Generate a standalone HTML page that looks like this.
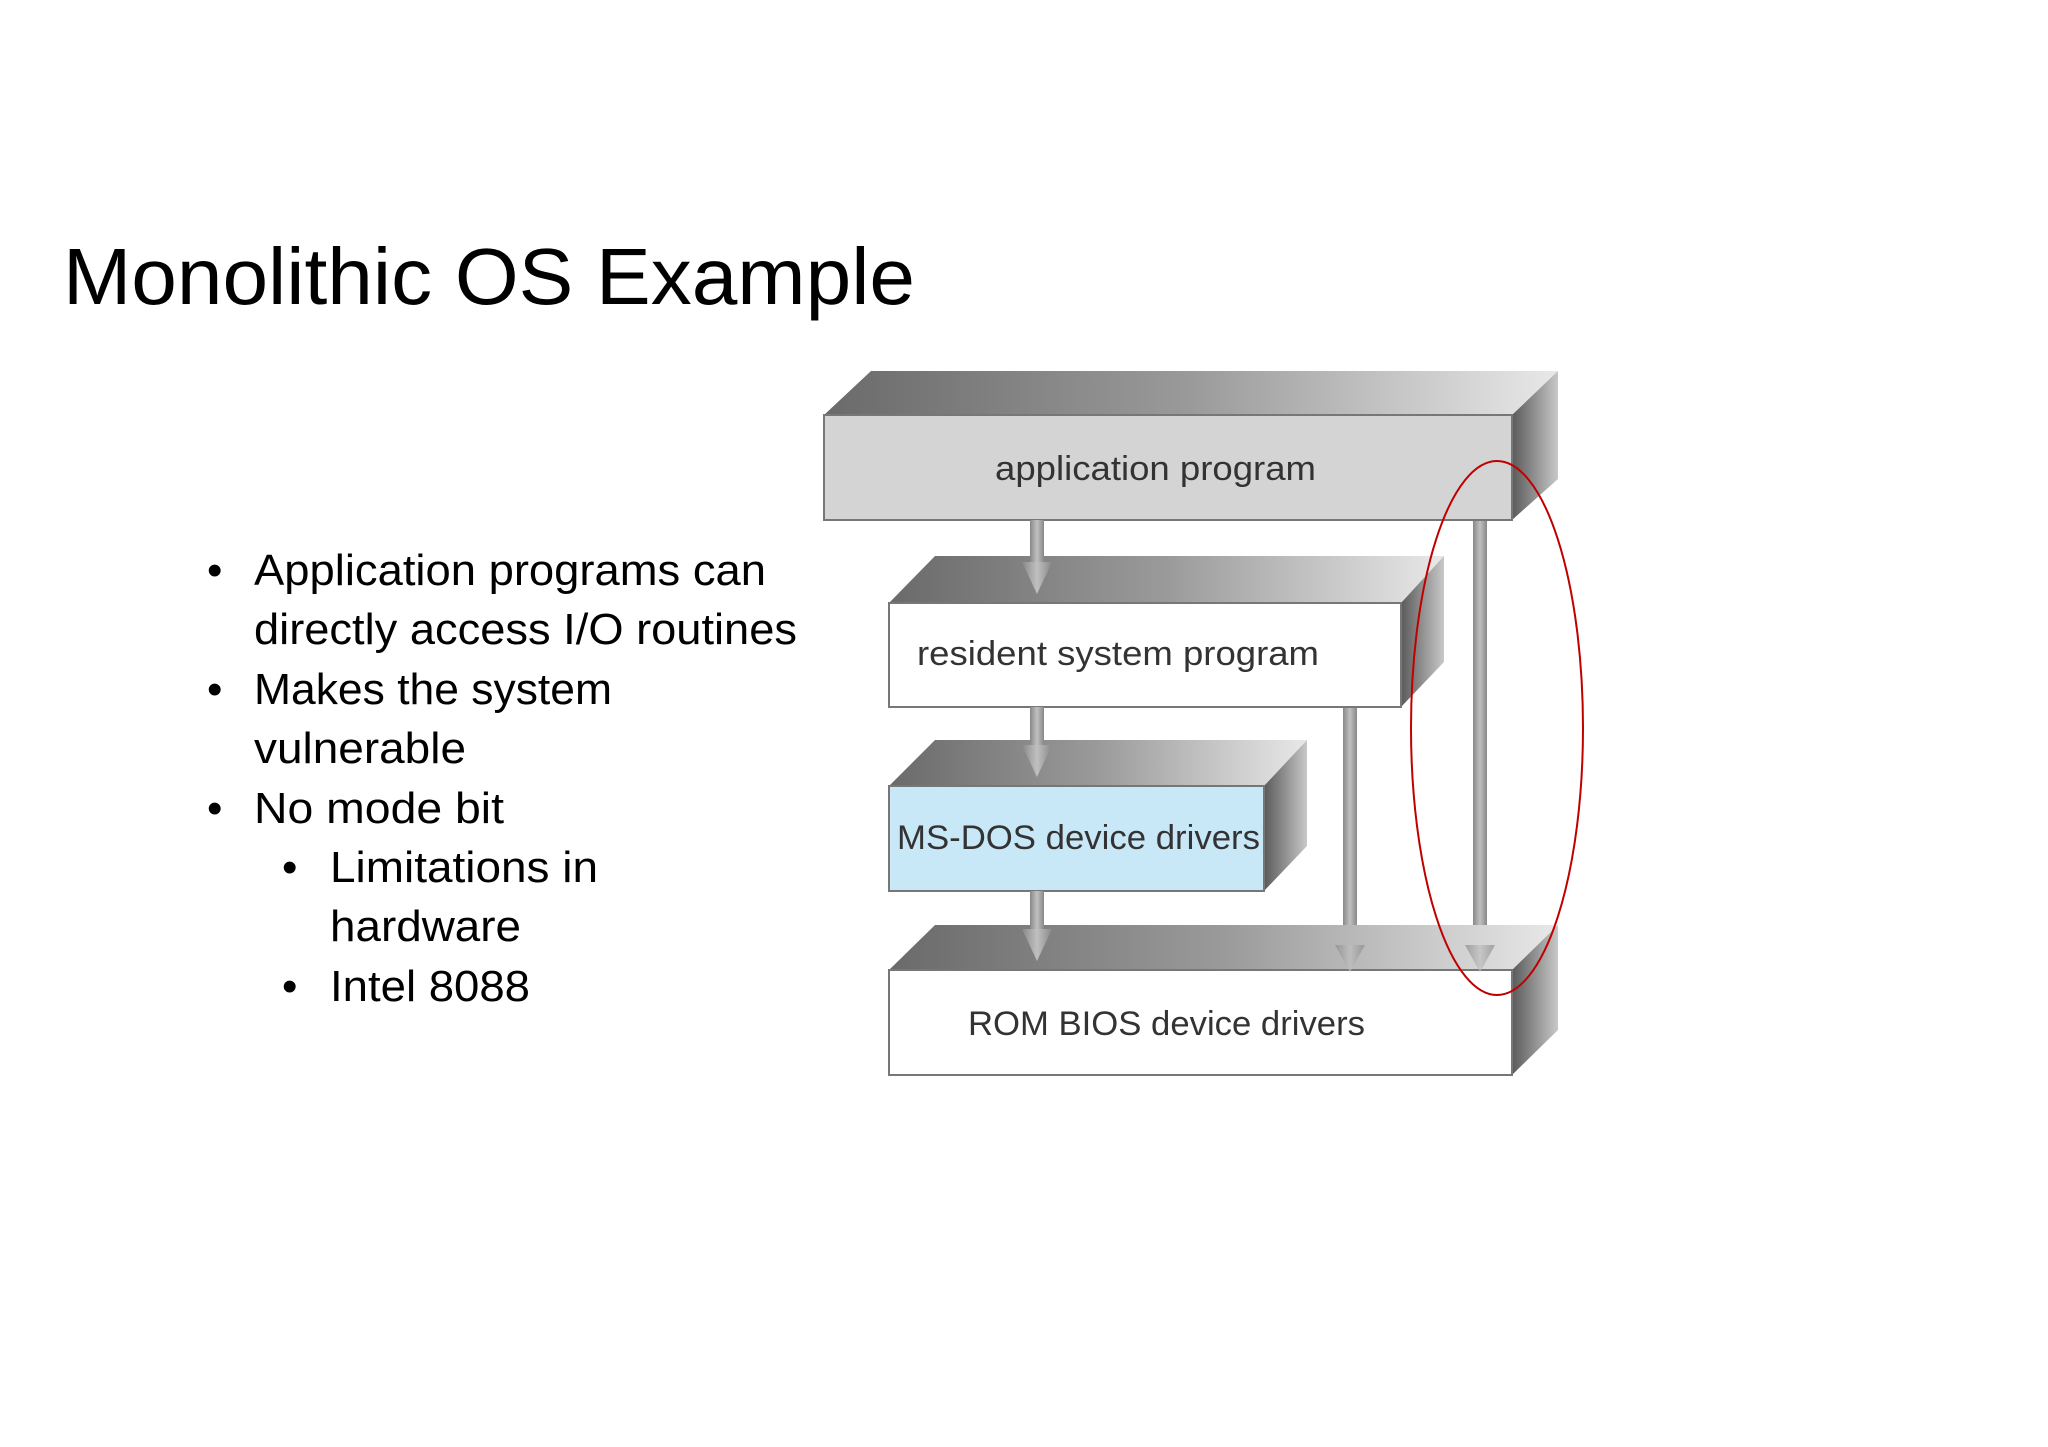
<!DOCTYPE html>
<html><head><meta charset="utf-8"><style>
html,body{margin:0;padding:0;background:#fff}
svg{display:block}
text{font-family:"Liberation Sans",sans-serif}
</style></head><body>
<svg width="2048" height="1447" viewBox="0 0 2048 1447" xmlns="http://www.w3.org/2000/svg">
<defs>
<linearGradient id="top" x1="0" y1="0" x2="1" y2="0">
<stop offset="0" stop-color="#6a6a6a"/><stop offset="0.5" stop-color="#9a9a9a"/><stop offset="1" stop-color="#e8e8e8"/></linearGradient>
<linearGradient id="side" x1="0" y1="0" x2="1" y2="0">
<stop offset="0" stop-color="#5a5a5a"/><stop offset="1" stop-color="#c8c8c8"/></linearGradient>
<linearGradient id="bar" x1="0" y1="0" x2="1" y2="0">
<stop offset="0" stop-color="#888"/><stop offset="0.5" stop-color="#c0c0c0"/><stop offset="1" stop-color="#888"/></linearGradient>
</defs>
<text x="63" y="304" font-size="80" textLength="852" lengthAdjust="spacingAndGlyphs" fill="#000">Monolithic OS Example</text>
<g font-size="44" fill="#000">
<text x="207" y="585">•</text><text x="254" y="585" textLength="512" lengthAdjust="spacingAndGlyphs">Application programs can</text>
<text x="254" y="644" textLength="543" lengthAdjust="spacingAndGlyphs">directly access I/O routines</text>
<text x="207" y="704">•</text><text x="254" y="704" textLength="358" lengthAdjust="spacingAndGlyphs">Makes the system</text>
<text x="254" y="763" textLength="212" lengthAdjust="spacingAndGlyphs">vulnerable</text>
<text x="207" y="823">•</text><text x="254" y="823" textLength="250" lengthAdjust="spacingAndGlyphs">No mode bit</text>
<text x="282" y="882">•</text><text x="330" y="882" textLength="268" lengthAdjust="spacingAndGlyphs">Limitations in</text>
<text x="330" y="941" textLength="191" lengthAdjust="spacingAndGlyphs">hardware</text>
<text x="282" y="1001">•</text><text x="330" y="1001" textLength="200" lengthAdjust="spacingAndGlyphs">Intel 8088</text>
</g>
<!-- vertical bars -->
<rect x="1343" y="707" width="14" height="240" fill="url(#bar)"/>
<rect x="1473" y="520" width="14" height="427" fill="url(#bar)"/>
<!-- ROM -->
<polygon points="889,970 935,925 1558,925 1512,970" fill="url(#top)"/>
<polygon points="1512,970 1558,925 1558,1030 1512,1075" fill="url(#side)"/>
<rect x="889" y="970" width="623" height="105" fill="#fff" stroke="#777" stroke-width="2"/>
<text x="968" y="1035" font-size="34" fill="#333" textLength="397" lengthAdjust="spacingAndGlyphs">ROM BIOS device drivers</text>
<!-- MS-DOS -->
<polygon points="889,786 935,740 1307,740 1264,786" fill="url(#top)"/>
<polygon points="1264,786 1307,740 1307,846 1264,891" fill="url(#side)"/>
<rect x="889" y="786" width="375" height="105" fill="#c8e8f8" stroke="#777" stroke-width="2"/>
<text x="897" y="849" font-size="34" fill="#333" textLength="363" lengthAdjust="spacingAndGlyphs">MS-DOS device drivers</text>
<!-- resident -->
<polygon points="889,603 935,556 1444,556 1401,603" fill="url(#top)"/>
<polygon points="1401,603 1444,556 1444,662 1401,707" fill="url(#side)"/>
<rect x="889" y="603" width="512" height="104" fill="#fff" stroke="#777" stroke-width="2"/>
<text x="917" y="665" font-size="34" fill="#333" textLength="402" lengthAdjust="spacingAndGlyphs">resident system program</text>
<!-- app -->
<polygon points="824,415 871,371 1558,371 1512,415" fill="url(#top)"/>
<polygon points="1512,415 1558,371 1558,479 1512,520" fill="url(#side)"/>
<rect x="824" y="415" width="688" height="105" fill="#d4d4d4" stroke="#777" stroke-width="2"/>
<text x="995" y="480" font-size="34" fill="#333" textLength="321" lengthAdjust="spacingAndGlyphs">application program</text>
<!-- down arrows -->
<g fill="url(#bar)">
<rect x="1030" y="520" width="14" height="42"/><polygon points="1022,562 1052,562 1037,594"/>
<rect x="1030" y="707" width="14" height="38"/><polygon points="1022,745 1052,745 1037,777"/>
<rect x="1030" y="891" width="14" height="38"/><polygon points="1022,929 1052,929 1037,961"/>
<polygon points="1335,945 1365,945 1350,972" opacity="0.7"/>
<polygon points="1465,945 1495,945 1480,972" opacity="0.7"/>
</g>
<ellipse cx="1497" cy="728" rx="86" ry="267" fill="none" stroke="#c00000" stroke-width="2"/>
</svg>
</body></html>
